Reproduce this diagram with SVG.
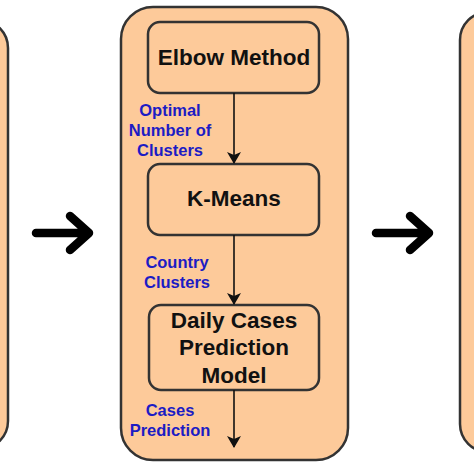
<svg xmlns="http://www.w3.org/2000/svg" width="474" height="474" viewBox="0 0 474 474">
<style>
.panel{fill:#FDCA9A;stroke:#333;stroke-width:2.5}
.box{fill:#FDCA9A;stroke:#333;stroke-width:2.5}
.nt{font-family:"Liberation Sans",Arial,sans-serif;font-weight:bold;font-size:22.5px;fill:#111;text-anchor:middle}
.lb{font-family:"Liberation Sans",Arial,sans-serif;font-weight:bold;font-size:16.5px;fill:#1c1cc4;text-anchor:middle}
.ln{stroke:#111;stroke-width:1.6;fill:none}
.big{stroke:#000;stroke-width:8.5;fill:none;stroke-linecap:round;stroke-linejoin:round}
</style>
<defs>
<marker id="ah" viewBox="0 0 12 14" refX="11" refY="7" markerWidth="12" markerHeight="14" markerUnits="userSpaceOnUse" orient="auto">
<path d="M0,0 L12,7 L0,14 L3,7 Z" fill="#111"/>
</marker>
</defs>
<rect width="474" height="474" fill="#fff"/>
<g id="left-panel"><rect class="panel" x="-60" y="20" width="68" height="429" rx="28"/></g>
<g id="right-panel"><rect class="panel" x="460" y="12" width="80" height="440" rx="28"/></g>
<g id="middle-panel"><rect class="panel" x="121" y="7" width="227" height="453" rx="32"/></g>
<g id="elbow"><rect class="box" x="148" y="22" width="171" height="71" rx="12"/><text class="nt" x="234" y="65">Elbow Method</text></g>
<g id="kmeans"><rect class="box" x="148" y="164" width="171" height="71" rx="12"/><text class="nt" x="234" y="206">K-Means</text></g>
<g id="daily"><rect class="box" x="149" y="305" width="170" height="85" rx="12"/><text class="nt" x="234" y="328">Daily Cases</text><text class="nt" x="234" y="355">Prediction</text><text class="nt" x="234" y="383">Model</text></g>
<g id="connectors">
<line class="ln" x1="234" y1="93" x2="234" y2="163" marker-end="url(#ah)"/>
<line class="ln" x1="234" y1="235" x2="234" y2="304" marker-end="url(#ah)"/>
<line class="ln" x1="234" y1="390" x2="234" y2="447" marker-end="url(#ah)"/>
<path class="big" d="M36,233 H88 M70,216 L89,233 L70,250"/>
<path class="big" d="M376,233 H428 M410,216 L429,233 L410,250"/>
</g>
<g id="labels">
<text class="lb" x="170" y="116">Optimal</text>
<text class="lb" x="170" y="136">Number of</text>
<text class="lb" x="170" y="156">Clusters</text>
<text class="lb" x="177" y="268">Country</text>
<text class="lb" x="177" y="288">Clusters</text>
<text class="lb" x="170" y="416">Cases</text>
<text class="lb" x="170" y="436">Prediction</text>
</g>
</svg>
